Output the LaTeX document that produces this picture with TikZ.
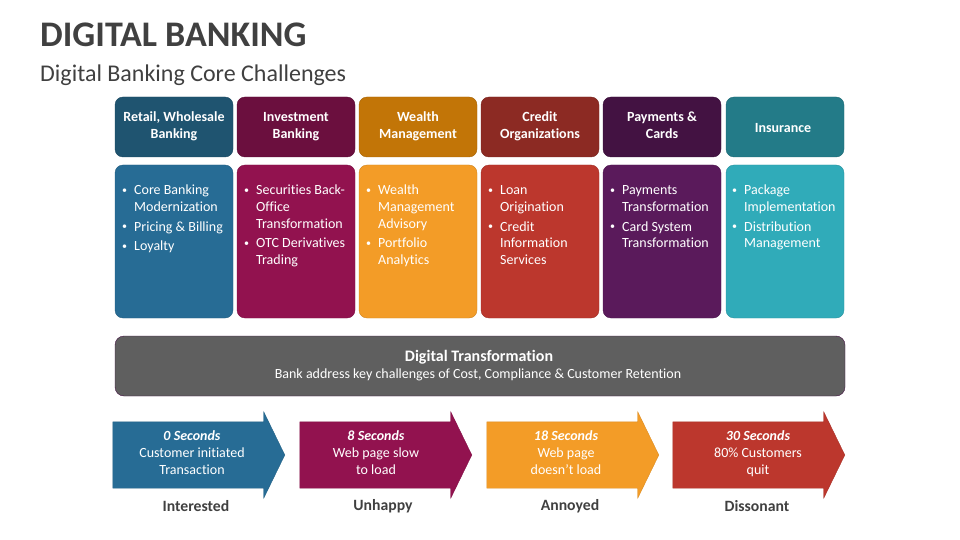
\documentclass[tikz,border=0pt]{standalone}
\usepackage{fontspec}
\defaultfontfeatures{}
\setmainfont{Carlito}[Ligatures={NoCommon}]
\usepackage{tikz}
\usetikzlibrary{positioning, shapes.arrows}

\definecolor{blueA}{HTML}{1F5470}
\definecolor{blueB}{HTML}{276C95}
\definecolor{wineA}{HTML}{6B0F3E}
\definecolor{wineB}{HTML}{92124F}
\definecolor{goldA}{HTML}{C27507}
\definecolor{goldB}{HTML}{F39C27}
\definecolor{redA}{HTML}{8C2A23}
\definecolor{redB}{HTML}{BC372D}
\definecolor{plumA}{HTML}{431242}
\definecolor{plumB}{HTML}{5A1A5B}
\definecolor{tealA}{HTML}{237B88}
\definecolor{tealB}{HTML}{30ABB9}
\definecolor{slate}{HTML}{5F5F5F}
\definecolor{ink}{HTML}{404040}

% bullet list set as two columns
\newcommand{\blist}[1]{\begin{tabular}{@{}l@{\hspace{7pt}}l@{}}#1\end{tabular}}
\newcommand{\bmark}{\raisebox{1.4pt}{\fontsize{10}{10}\selectfont\textbullet}}
% keep the lines of a node at the same height
\newcommand{\linetop}{\rule{0pt}{15pt}}
\newcommand{\linebot}{\rule[-4pt]{0pt}{4pt}}

\begin{document}
\begin{tikzpicture}
            [x=1pt, y=-1pt,
             headbox/.style={draw=#1!85!black, fill=#1, rounded corners=8pt, minimum width=118pt, minimum height=60pt,
                 inner sep=0pt, align=center, text=white, font=\fontsize{14}{17}\selectfont\bfseries,
                 execute at begin node=\linetop, execute at end node=\linebot},
             bodybox/.style={draw=#1!85!black, fill=#1, rounded corners=8pt, minimum width=118pt, minimum height=153pt},
             listtext/.style={anchor=north west, inner sep=0pt, text=white, font=\fontsize{14}{16.7}\selectfont},
             flowarrow/.style={single arrow, draw=#1!90!black, fill=#1, anchor=tip, text height=33pt, text depth=33pt,
                 minimum height=172pt, single arrow head extend=10pt, single arrow tip angle=128, inner sep=0pt},
             flowtext/.style={inner sep=0pt, align=center, text=white, font=\fontsize{14}{17}\selectfont,
                 execute at begin node=\linetop, execute at end node=\linebot},
             mood/.style={inner sep=0pt, text=ink, font=\fontsize{15.7}{18}\selectfont\bfseries,
                 execute at begin node=\linetop}]
            \useasboundingbox (0,0) rectangle (960,540);

            \node[anchor=west, inner sep=0pt, text=ink, font=\fontsize{36}{40}\selectfont\bfseries] (title) at (40,35) {DIGITAL BANKING};
            \node[anchor=west, inner sep=0pt, text=ink, font=\fontsize{24}{28}\selectfont] (subtitle) at (40,75) {Digital Banking Core Challenges};

            % top row
            \node[headbox=blueA] (h1) at (174,127) {Retail, Wholesale\\Banking};
            \node[headbox=wineA] (h2) at (296,127) {Investment\\Banking};
            \node[headbox=goldA] (h3) at (418,127) {Wealth\\Management};
            \node[headbox=redA] (h4) at (540,127) {Credit\\Organizations};
            \node[headbox=plumA] (h5) at (662,127) {Payments \&\\Cards};
            \node[headbox=tealA] (h6) at (785,127) {Insurance\hspace{4pt}};

            % lists
            \node[bodybox=blueB] (b1) at (174,241.5) {};
            \node[bodybox=wineB] (b2) at (296,241.5) {};
            \node[bodybox=goldB] (b3) at (418,241.5) {};
            \node[bodybox=redB] (b4) at (540,241.5) {};
            \node[bodybox=plumB] (b5) at (662,241.5) {};
            \node[bodybox=tealB] (b6) at (785,241.5) {};

            \node[listtext] (t1) at (122,183) {\blist{\bmark & Core Banking\\ & Modernization\\[3pt] \bmark & Pricing \& Billing\\[3pt] \bmark & Loyalty}};
            \node[listtext] (t2) at (244,183) {\blist{\bmark & Securities Back-\\ & Office\\ & Transformation\\[3pt] \bmark & OTC Derivatives\\ & Trading}};
            \node[listtext] (t3) at (366,183) {\blist{\bmark & Wealth\\ & Management\\ & Advisory\\[3pt] \bmark & Portfolio\\ & Analytics}};
            \node[listtext] (t4) at (488,183) {\blist{\bmark & Loan\\ & Origination\\[3pt] \bmark & Credit\\ & Information\\ & Services}};
            \node[listtext] (t5) at (610,183) {\blist{\bmark & Payments\\ & Transformation\\[3pt] \bmark & Card System\\ & Transformation}};
            \node[listtext] (t6) at (732,183) {\blist{\bmark & Package\\ & Implementation\\[3pt] \bmark & Distribution\\ & Management}};

            % banner
            \node[draw=plumA, fill=slate, rounded corners=9pt, minimum width=730pt, minimum height=60pt, inner sep=0pt,
                align=center, text=white, font=\fontsize{14}{17}\selectfont] (banner) at (480,366)
                {{\fontsize{16}{17}\selectfont\bfseries Digital Transformation\hspace{2pt}\mbox{}}\\Bank address key challenges of Cost, Compliance \& Customer Retention\hspace{4pt}\mbox{}};

            % time line
            \node[flowarrow=blueB] (a1) at (285,455) {};
            \node[flowarrow=wineB] (a2) at (472,455) {};
            \node[flowarrow=goldB] (a3) at (659,455) {};
            \node[flowarrow=redB] (a4) at (845,455) {};

            \node[flowtext] (f1) at (192,455) {\textbf{\textit{0 Seconds}}\\Customer initiated\\Transaction};
            \node[flowtext] (f2) at (376,455) {\textbf{\textit{8 Seconds}}\\Web page slow\\to load};
            \node[flowtext] (f3) at (566,455) {\textbf{\textit{18 Seconds}}\\Web page\\doesn't load};
            \node[flowtext] (f4) at (758,455) {\textbf{\textit{30 Seconds}}\\80\% Customers\\quit};

            \node[mood] (m1) at (196,504) {Interested};
            \node[mood] (m2) at (383,504) {Unhappy};
            \node[mood] (m3) at (570,504) {Annoyed};
            \node[mood] (m4) at (757,504) {Dissonant};
        \end{tikzpicture}
\end{document}
